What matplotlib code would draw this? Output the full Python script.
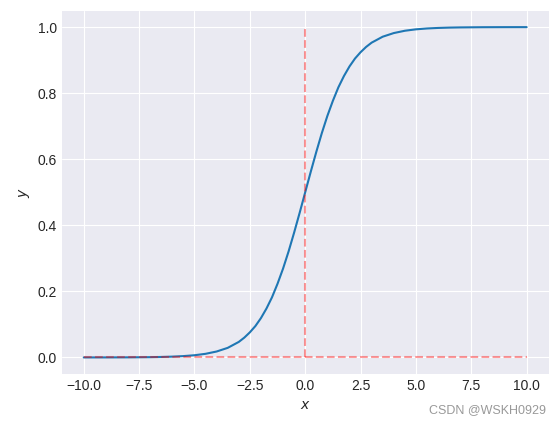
import matplotlib
matplotlib.use("Agg")
import matplotlib.pyplot as plt

plt.style.use("seaborn-v0_8-darkgrid")

x_left = [-10, -9.5, -9, -8.5, -8, -7.5, -7, -6.5, -6, -5.5, -5, -4.5, -4, -3.5,
          -3, -2.75, -2.5, -2.25, -2, -1.75, -1.5, -1.25, -1, -0.75, -0.5, -0.25]
y_left = [0.00005, 0.00007, 0.0001, 0.0002, 0.0003, 0.0006, 0.0009, 0.0015, 0.0025,
          0.0041, 0.0067, 0.011, 0.018, 0.029, 0.047, 0.060, 0.076, 0.095, 0.119,
          0.148, 0.182, 0.223, 0.269, 0.321, 0.378, 0.438]
x_vals = x_left + [0] + [-v for v in reversed(x_left)]
y_vals = y_left + [0.5] + [1 - v for v in reversed(y_left)]

fig, ax = plt.subplots(figsize=(5.6, 4.24), dpi=100)
fig.subplots_adjust(left=0.11, right=0.98, top=0.975, bottom=0.118)
ax.plot(x_vals, y_vals, color="#1f77b4", lw=1.5)
ax.plot([0, 0], [0, 1], "r--", alpha=0.4)
ax.plot([-10, 10], [0, 0], "r--", alpha=0.4)
ax.set_xlabel("$x$")
ax.set_ylabel("$y$")
ax.set_xticks([-10, -7.5, -5, -2.5, 0, 2.5, 5, 7.5, 10])
fig.text(0.975, 0.018, "CSDN @WSKH0929", ha="right", va="bottom", color="#999999", fontsize=9)
fig.savefig("out.png", dpi=100)
